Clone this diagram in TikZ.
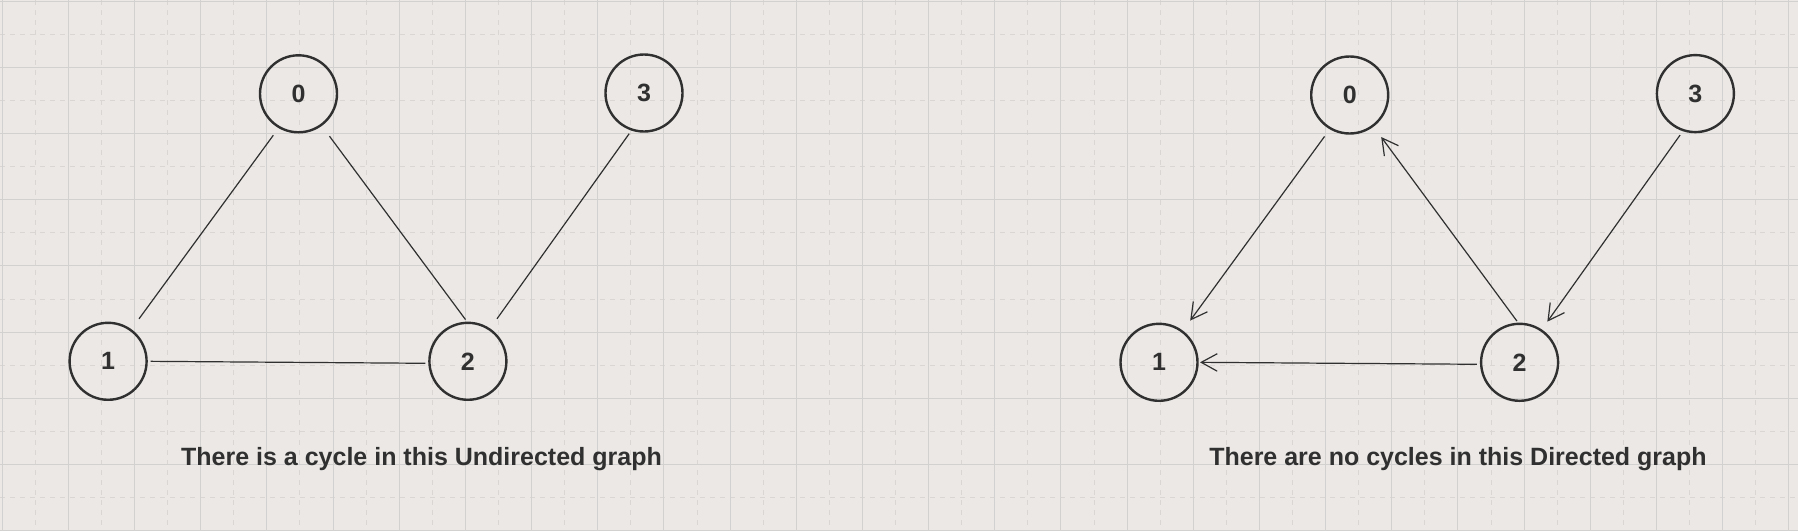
\documentclass[tikz,border=0pt]{standalone}
\usepackage{fontspec}
\setmainfont{Liberation Sans}
\usetikzlibrary{arrows.meta}
\definecolor{bgc}{HTML}{EBE8E5}
\definecolor{gridsolid}{HTML}{D3D1D0}
\definecolor{griddash}{HTML}{D9D6D4}
\definecolor{ink}{HTML}{303030}
\tikzset{
  vtx/.style={circle, draw=ink, line width=2.4pt, minimum size=77pt, inner sep=0pt, outer sep=0pt,
    font=\fontsize{25}{30}\selectfont\bfseries, text=ink},
  edge/.style={draw=ink, line width=1.2pt},
  arc/.style={edge, -{Straight Barb[length=16pt, width=17.5pt, line width=1.2pt]}},
  caption/.style={anchor=base, inner sep=0pt, font=\fontsize{25}{30}\selectfont\bfseries, text=ink},
  gsolid/.style={draw=gridsolid, line width=1pt},
  gdash/.style={draw=griddash, line width=1pt, dash pattern=on 5pt off 5pt}
}
\begin{document}
\begin{tikzpicture}[x=1pt, y=-1pt]
\useasboundingbox (0,0) rectangle (1798,530);
\fill[bgc] (0,0) rectangle (1798,530);
% grid
\foreach \k in {0,...,27} {
  \draw[gdash] ({35.3+66.17*\k},0) -- ({35.3+66.17*\k},530);
}
\foreach \k in {0,...,8} {
  \draw[gdash] (0,{34.4+66.17*\k}) -- (1798,{34.4+66.17*\k});
}
\foreach \k in {0,...,27} {
  \draw[gsolid] ({2.2+66.17*\k},0) -- ({2.2+66.17*\k},530);
}
\foreach \k in {0,...,8} {
  \draw[gsolid] (0,{1.3+66.17*\k}) -- (1798,{1.3+66.17*\k});
}
% left graph
\node[vtx] (L0) at (298.5,93.8) {0};
\node[vtx] (L3) at (644,93) {3};
\node[vtx] (L1) at (108.1,361.3) {1};
\node[vtx] (L2) at (467.9,361.3) {2};
\draw[edge, shorten <=10pt, shorten >=14pt] (L0.240.8) -- (L1.54.1);
\draw[edge, shorten <=14pt, shorten >=4pt] (L0.306.5) -- (L2.90);
\draw[edge, shorten <=5pt, shorten >=13pt] (L3.252) -- (L2.56.2);
\draw[edge, shorten <=4pt, shorten >=4pt] (L1.0) -- (L2.183.7);
\node[caption] (capL) at (421.5,465.8) {There is a cycle in this Undirected graph};
% right graph
\node[vtx] (R0) at (1349.7,95) {0};
\node[vtx] (R3) at (1695.4,93.6) {3};
\node[vtx] (R1) at (1159,362.3) {1};
\node[vtx] (R2) at (1519.6,362.3) {2};
\draw[arc, shorten <=10pt, shorten >=13.6pt] (R0.240.2) -- (R1.53.6);
\draw[arc, shorten <=3.4pt, shorten >=14pt] (R2.91.5) -- (R0.307.1);
\draw[arc, shorten <=6pt, shorten >=10.7pt] (R3.252.9) -- (R2.56.9);
\draw[arc, shorten <=4.2pt, shorten >=2.5pt] (R2.183.6) -- (R1.0);
\node[caption] (capR) at (1458,465) {There are no cycles in this Directed graph};
\end{tikzpicture}
\end{document}
